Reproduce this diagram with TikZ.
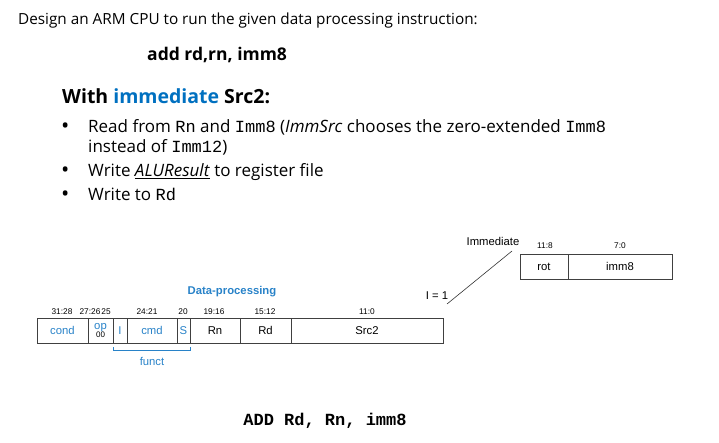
\documentclass[tikz,border=0pt]{standalone}
\usepackage{fontspec}
\setmainfont{Open Sans}
\newfontfamily\arial{Liberation Sans}
\newfontfamily\cour{Liberation Mono}
\definecolor{msblue}{RGB}{0,112,192}
\definecolor{fblue}{RGB}{40,130,200}
\begin{document}
\begin{tikzpicture}[x=1pt,y=-1pt,
  fld/.style={draw=black!75,line width=0.7pt},
  bits/.style={font=\arial\fontsize{8.3}{9}\selectfont,anchor=base},
  ftxt/.style={font=\arial\fontsize{11.3}{12}\selectfont},
  body/.style={anchor=base west,font=\fontsize{17}{20}\selectfont,inner sep=0pt}]
\useasboundingbox (0,0) rectangle (719,443);
\node[body,font=\fontsize{15.3}{18}\selectfont] (t) at (18,25) {Design an ARM CPU to run the given data processing instruction:};
\node[body,font=\bfseries\fontsize{17.5}{20}\selectfont] (a) at (147,61) {add rd,rn, imm8};
\node[body,font=\bfseries\fontsize{19.5}{22}\selectfont] (w) at (62,104) {With \textcolor{msblue}{immediate} Src2:};
\foreach \yy/\nm in {133/b1,177/b2,201/b3} \node[body,font=\fontsize{22}{22}\selectfont] (\nm) at (61,\yy+1) {•};
\node[body] (l1) at (88,133) {Read from {\cour Rn} and {\cour Imm8} (\textit{ImmSrc} chooses the zero-extended {\cour Imm8}};
\node[body] (l1b) at (88,153) {instead of {\cour Imm12})};
\node[body] (l2) at (88,177) {Write \underline{\textit{ALUResult}} to register file};
\node[body] (l3) at (88,201) {Write to {\cour Rd}};
% instruction fields
\foreach \xa/\xb/\nm in {37/88/fc,88/113/fo,113/127/fi,127/177/fcmd,177/190/fs,190/240/frn,240/291/frd,291/443/fsrc}
  \draw[fld] (\xa,318) rectangle (\xb,343) coordinate (\nm);
\node[ftxt,text=fblue] (n1) at (62.5,330.5) {cond};
\node[ftxt,text=fblue,align=center,inner sep=0pt] (n2) at (100.5,330.5) {op\\[-4pt]{\color{black}\fontsize{8}{8}\selectfont 00}};
\node[ftxt,text=fblue] (n3) at (120,330.5) {I};
\node[ftxt,text=fblue] (n4) at (152,330.5) {cmd};
\node[ftxt,text=fblue] (n5) at (183.5,330.5) {S};
\node[ftxt] (n6) at (215,330.5) {Rn};
\node[ftxt] (n7) at (265.5,330.5) {Rd};
\node[ftxt] (n8) at (367,330.5) {Src2};
\foreach \xx/\tt in {62/31:28,90/27:26,106/25,147/24:21,183/20,214/19:16,265/15:12,367/11:0}
  \node[bits] at (\xx,314) {\tt};
\node[font=\arial\bfseries\fontsize{11.3}{12}\selectfont,text=fblue] (dp) at (232,292) {Data-processing};
\draw[fblue,line width=0.7pt] (113,347) -- (113,350) -- (190,350) -- (190,347);
\node[ftxt,text=fblue] (fu) at (152,361) {funct};
\node[ftxt] (i1) at (437,296) {I = 1};
\coordinate (la) at (447,304);
\coordinate (lb) at (512,251);
\draw[black!80,line width=0.6pt] (la) -- (lb);
\node[ftxt] (im) at (493,241) {Immediate};
\draw[fld] (520,254) rectangle (568,279);
\draw[fld] (568,254) rectangle (672,279);
\node[ftxt] (r1) at (544,266.5) {rot};
\node[ftxt] (r2) at (620,266.5) {imm8};
\node[bits] at (545,249) {11:8};
\node[bits] at (620,249) {7:0};
\node[font=\cour\bfseries\fontsize{17}{20}\selectfont] (ad) at (325,421) {ADD Rd, Rn, imm8};
\end{tikzpicture}
\end{document}
